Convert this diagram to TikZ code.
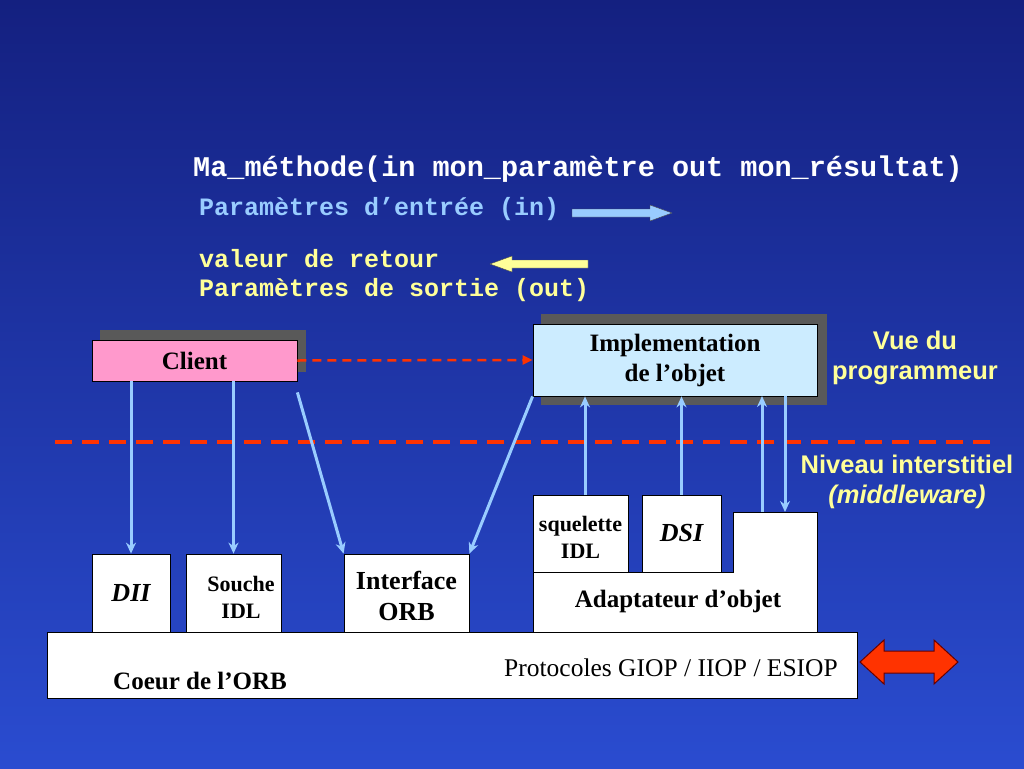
\documentclass[tikz,border=0pt]{standalone}
\usepackage{fontspec}
\setmainfont{Liberation Serif}
\setsansfont{Liberation Sans}
\setmonofont{Liberation Mono}
\usetikzlibrary{arrows.meta}
\definecolor{bgtop}{HTML}{142080}
\definecolor{bgbot}{HTML}{2A4CD0}
\definecolor{lblue}{HTML}{99CCFF}
\definecolor{lyellow}{HTML}{FFFF99}
\definecolor{pinkc}{HTML}{FF99CC}
\definecolor{implc}{HTML}{CCECFF}
\definecolor{redc}{HTML}{FF3300}
\tikzset{
  box/.style={draw=black,fill=white,line width=.8pt},
  flow/.style={draw=lblue,line width=3pt,-{Stealth[length=11pt,width=10pt]}},
  shadow/.style={fill=black!65},
}
\begin{document}
\begin{tikzpicture}[x=1pt,y=-1pt]
\shade[top color=bgtop,bottom color=bgbot] (0,0) rectangle (1024,768);
\useasboundingbox (0,0) rectangle (1024,768);

% en-tete
\node[anchor=base west,text=white,font=\ttfamily\bfseries\fontsize{28.5}{30}\selectfont,inner sep=0] (title) at (193,176) {Ma\_méthode(in mon\_paramètre out mon\_résultat)};
\node[anchor=west,text=lblue,font=\ttfamily\bfseries\fontsize{25}{27}\selectfont,inner sep=0] (pin) at (199,209) {Paramètres d’entrée (in)};
\node[anchor=west,text=lyellow,font=\ttfamily\bfseries\fontsize{25}{27}\selectfont,inner sep=0] (ret) at (199,259) {valeur de retour};
\node[anchor=west,text=lyellow,font=\ttfamily\bfseries\fontsize{25}{27}\selectfont,inner sep=0] (pout) at (199,290) {Paramètres de sortie (out)};
\draw[fill=lblue,draw=black!70] (572,209)--(650,209)--(650,205)--(672,213)--(650,221)--(650,217)--(572,217)--cycle;
\draw[fill=lyellow,draw=black!70] (588,260)--(512,260)--(512,256)--(490,264)--(512,272)--(512,268)--(588,268)--cycle;

% boites du programmeur
\fill[shadow] (100,330) rectangle (306,372);
\node[box,fill=pinkc,minimum width=205,minimum height=41,font=\bfseries\fontsize{25}{27}\selectfont] (client) at (194.5,360.5) {Client};
\fill[shadow] (541,314) rectangle (827,405);
\node[box,fill=implc,minimum width=284,minimum height=72,align=center,font=\bfseries\fontsize{25}{30}\selectfont] (impl) at (675,360) {Implementation\\de l’objet};
\draw[redc,line width=2.5pt,dash pattern=on 9pt off 6pt,-{Triangle[length=10pt,width=9pt]}] (client.east) -- (impl.west);

\node[text=lyellow,font=\sffamily\bfseries\fontsize{25.5}{30}\selectfont,align=center] (vue) at (915,358) {Vue du\\programmeur};
\node[text=lyellow,font=\sffamily\bfseries\fontsize{25.5}{30}\selectfont,align=center] (niv) at (907,482) {Niveau interstitiel\\\textit{(middleware)}};
\draw[redc,line width=4pt,dash pattern=on 17pt off 10pt] (55,442) -- (990,442);

% ORB
\node[box,minimum width=810,minimum height=66] (coeur) at (452,665) {};
\node[font=\bfseries\fontsize{25}{27}\selectfont] (cl) at (200,681) {Coeur de l’ORB};
\node[font=\fontsize{25.5}{27}\selectfont] (proto) at (671,668) {Protocoles GIOP / IIOP / ESIOP};
\node[box,minimum width=78,minimum height=78,font=\bfseries\itshape\fontsize{26}{28}\selectfont] (dii) at (131,593) {DII};
\node[box,minimum width=95,minimum height=78] (souche) at (233.5,593) {};
\node[align=center,font=\bfseries\fontsize{22}{27}\selectfont] (souchet) at (241,597) {Souche\\IDL};
\node[box,minimum width=125,minimum height=78] (iorb) at (406.5,593) {};
\node[align=center,font=\bfseries\fontsize{26}{31}\selectfont] (iorbt) at (406.5,596) {Interface\\ORB};
\node[box,minimum width=95,minimum height=77] (sq) at (580.5,533.5) {};
\node[align=center,font=\bfseries\fontsize{22}{27}\selectfont] (sqt) at (580.5,537) {squelette\\IDL};
\node[box,minimum width=79,minimum height=77,font=\bfseries\itshape\fontsize{26}{28}\selectfont] (dsi) at (681.5,533.5) {DSI};
\draw[box] (533,632)--(533,572)--(733,572)--(733,512)--(817,512)--(817,632)--cycle;
\node[font=\bfseries\fontsize{25}{27}\selectfont] (adapt) at (678,601) {Adaptateur d’objet};
\draw[fill=redc,draw=red!40!black,line width=1pt] (860,662)--(884,640)--(884,651)--(934,651)--(934,640)--(958,662)--(934,684)--(934,673)--(884,673)--(884,684)--cycle;

% connecteurs
\draw[flow] (client.south-|dii.north) -- (dii.north);
\draw[flow] (client.south-|souche.north) -- (souche.north);
\draw[flow] ([yshift=-11]client.south east) -- (iorb.north west);
\draw[flow] (impl.south west) -- (iorb.north east);
\draw[flow] (585,495) -- (impl.south-|585,0);
\draw[flow] (dsi.north) -- (impl.south-|dsi.north);
\draw[flow] (762,512) -- (762,396);
\draw[flow] (785,396) -- (785,512);
\end{tikzpicture}
\end{document}
